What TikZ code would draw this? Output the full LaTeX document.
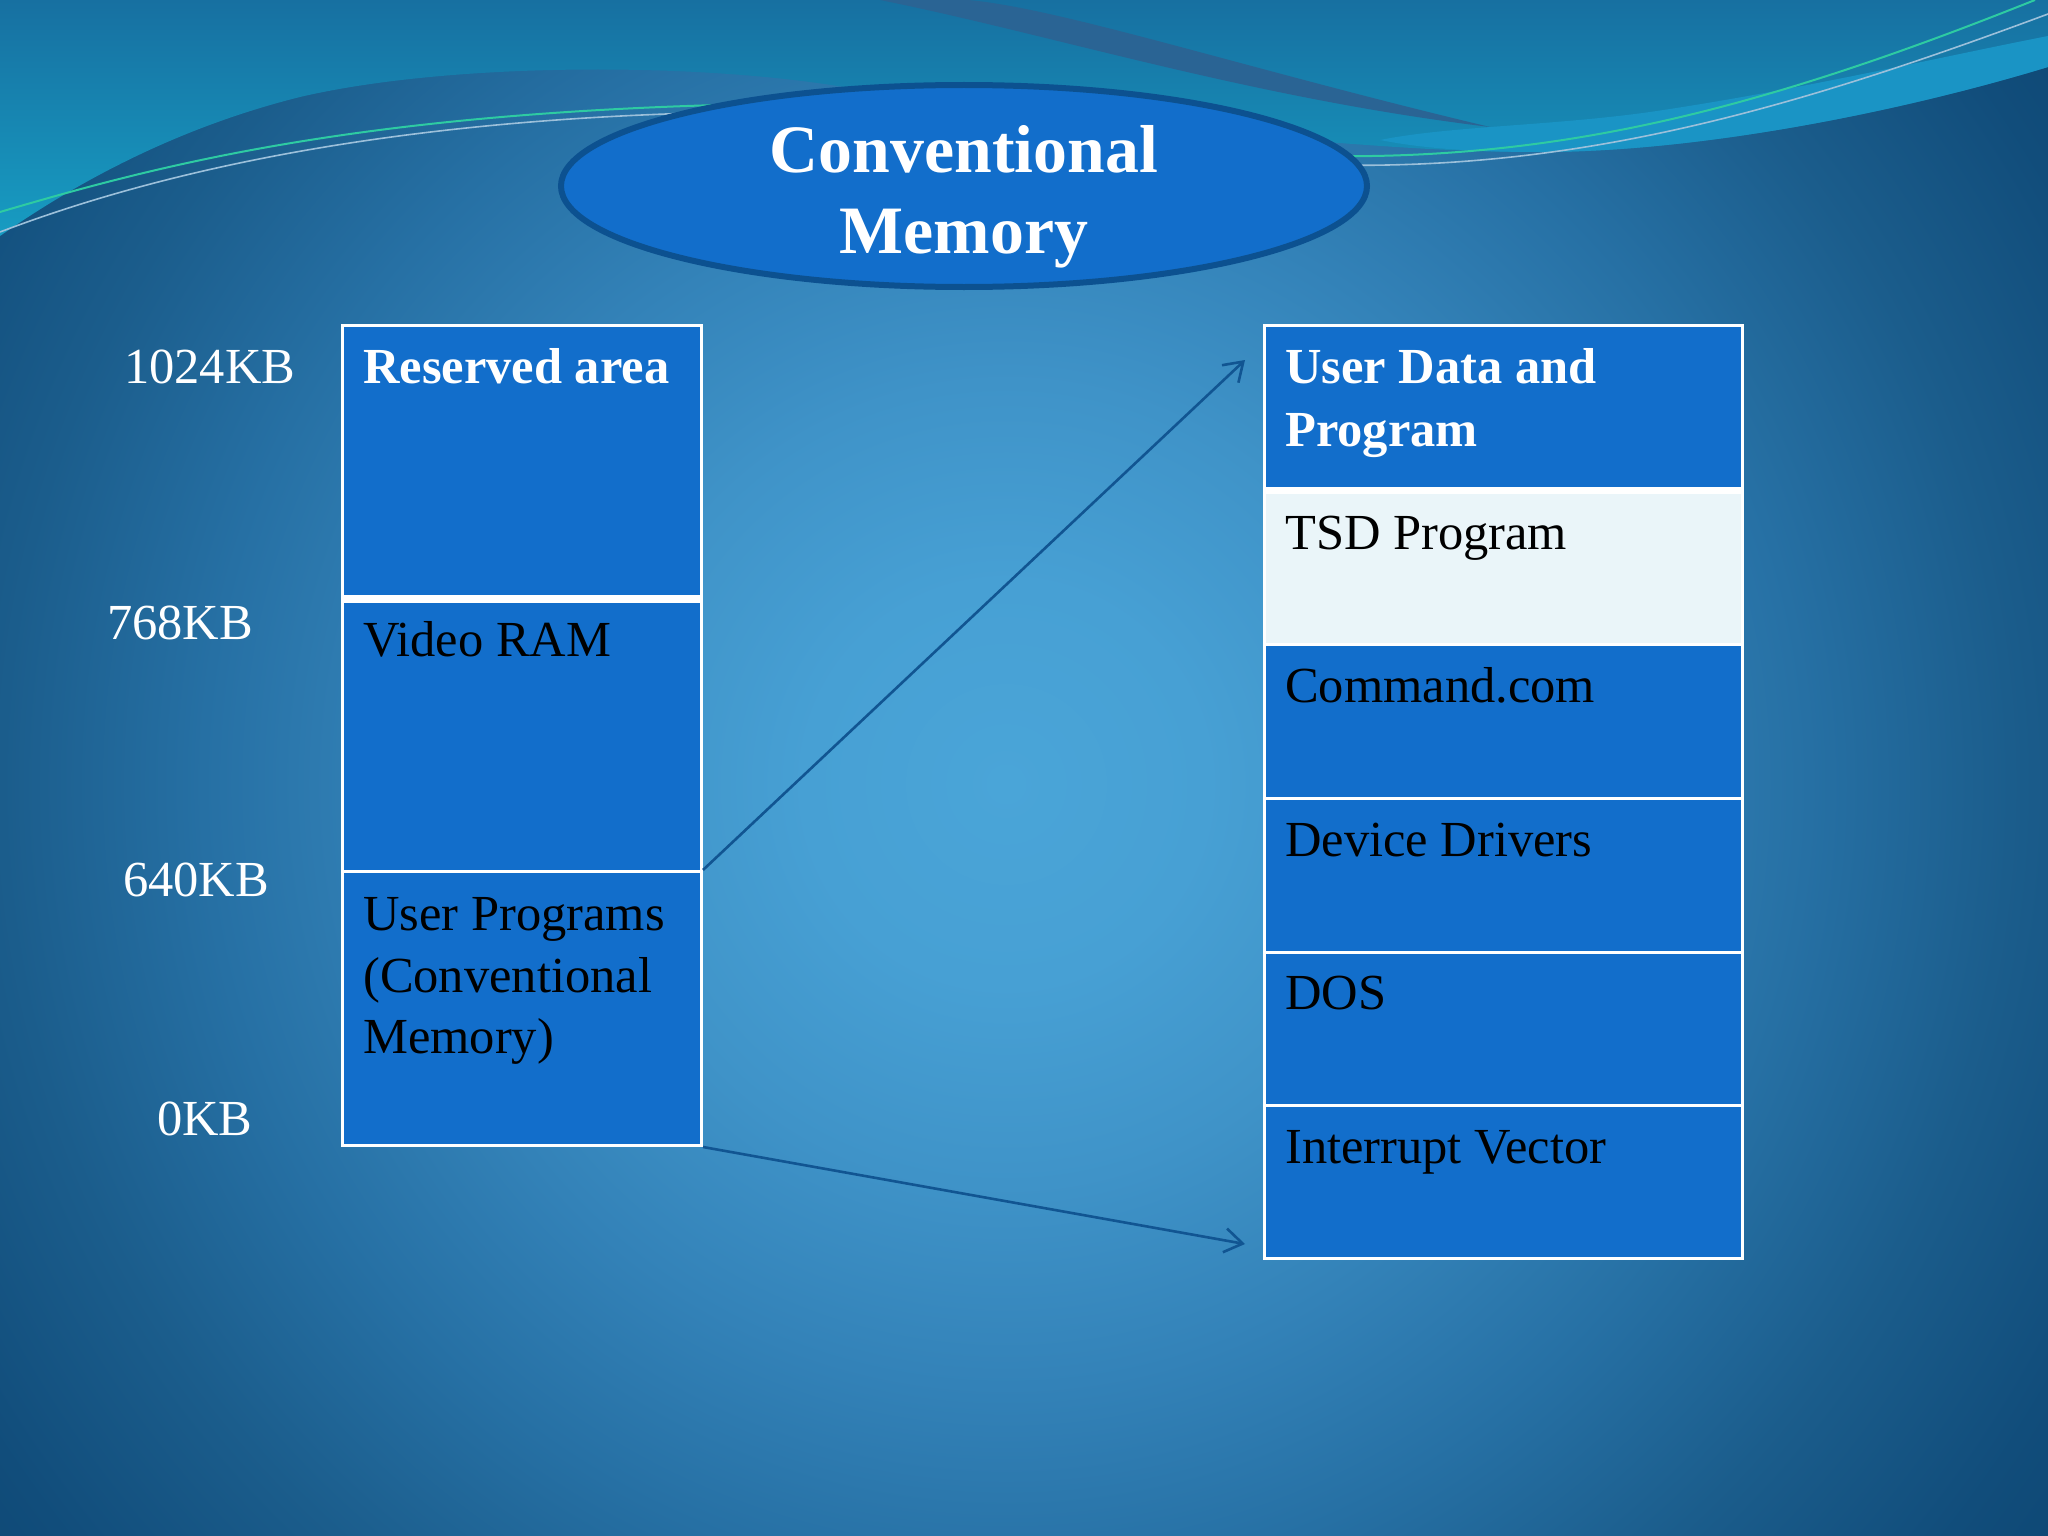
\documentclass[tikz,border=0pt]{standalone}
\usepackage{fontspec}
\setmainfont{Liberation Serif}
\usetikzlibrary{arrows.meta,shapes.geometric}
\definecolor{bgA}{HTML}{4AA5D8}
\definecolor{bgB}{HTML}{47A0D4}
\definecolor{bgC}{HTML}{3F93C8}
\definecolor{bgD}{HTML}{3382B8}
\definecolor{bgE}{HTML}{2670A4}
\definecolor{bgF}{HTML}{1B5D8C}
\definecolor{bgG}{HTML}{114D7B}
\definecolor{bgH}{HTML}{0A416C}
\definecolor{tealT}{HTML}{1770A1}
\definecolor{tealB}{HTML}{179CC2}
\definecolor{stripe}{HTML}{2A6494}
\definecolor{cyanband}{HTML}{1A94C5}
\definecolor{greenline}{HTML}{2ECBA2}
\definecolor{paleline}{HTML}{9CC0DA}
\definecolor{boxblue}{HTML}{126ECB}
\definecolor{ellborder}{HTML}{0C5190}
\definecolor{tsdfill}{HTML}{EAF5F9}
\definecolor{arrowblue}{HTML}{115592}
\pgfdeclareradialshading{bgshade}{\pgfpoint{0bp}{0bp}}{color(0bp)=(bgA); color(10bp)=(bgB); color(20bp)=(bgC); color(30bp)=(bgD); color(40bp)=(bgE); color(50bp)=(bgF); color(60bp)=(bgG); color(72bp)=(bgH)}
\tikzset{
  membox/.style={draw=white, line width=3pt, fill=boxblue, anchor=north west, inner sep=0pt, minimum width=#1},
  membox/.default=359,
  txt/.style={anchor=base west, inner sep=0pt, font=\fontsize{50.5}{61}\selectfont},
  hdr/.style={txt, text=white, font=\fontsize{50.5}{61}\selectfont\bfseries},
  kb/.style={txt, text=white},
  arrowline/.style={draw=arrowblue, line width=2.6pt, -{Straight Barb[length=18pt,width=24pt,line width=2.6pt]}},
}
\begin{document}
\begin{tikzpicture}[x=1pt,y=-1pt]
\useasboundingbox (0,0) rectangle (2048,1536);
\begin{scope}
\clip (0,0) rectangle (2048,1536);
\fill[bgH] (0,0) rectangle (2048,1536);
\begin{pgfscope}
\pgftransformshift{\pgfpoint{1006pt}{-784pt}}
\pgftransformscale{20}
\pgflowlevelsynccm
\pgfuseshading{bgshade}
\end{pgfscope}
% top wave
\shade[top color=tealT, bottom color=tealB] (0,0) -- (2048,0) -- (2048,67)
  .. controls (1900,112) and (1700,152) .. (1540,152)
  .. controls (1450,152) and (1380,146) .. (1300,140)
  .. controls (1100,120) and (950,95) .. (850,88)
  .. controls (700,62) and (450,62) .. (300,97)
  .. controls (180,127) and (80,180) .. (0,236) -- cycle;
\fill[stripe] (880,0) .. controls (1050,34) and (1250,98) .. (1490,127)
  .. controls (1250,70) and (1060,8) .. (968,0) -- cycle;
\fill[cyanband] (1380,140) .. controls (1450,126) and (1550,126) .. (1650,112)
  .. controls (1800,90) and (1950,55) .. (2048,36) -- (2048,67)
  .. controls (1900,112) and (1700,152) .. (1540,152)
  .. controls (1470,152) and (1420,148) .. (1380,140) -- cycle;
\draw[greenline, line width=2pt] (0,212) .. controls (150,168) and (350,112) .. (760,104);
\draw[paleline, line width=1.6pt] (0,232) .. controls (150,175) and (380,118) .. (740,112);
\draw[greenline, line width=2pt] (1320,156) .. controls (1560,160) and (1760,110) .. (2035,0);
\draw[paleline, line width=1.6pt] (1330,165) .. controls (1580,170) and (1790,110) .. (2048,14);
\end{scope}
% title
\node[ellipse, draw=ellborder, line width=6pt, fill=boxblue, minimum width=806, minimum height=202, inner sep=0pt] (title) at (964,186) {};
\node[anchor=base, inner sep=0pt, text=white, font=\fontsize{67.8}{84}\selectfont\bfseries] (t1) at (964,172) {Conventional};
\node[anchor=base, inner sep=0pt, text=white, font=\fontsize{67.8}{84}\selectfont\bfseries] (t2) at (964,253) {Memory};
% left column
\node[membox, minimum height=272] (reserved) at (341,324) {};
\node[membox, minimum height=274] (video) at (341,596) {};
\node[membox, minimum height=274] (userprog) at (341,870) {};
\draw[white, line width=8pt] (reserved.south west) -- (reserved.south east);
\node[hdr] (lreserved) at (363,383) {Reserved area};
\node[txt] (lvideo) at (363,656) {Video RAM};
\node[txt] (lup1) at (363,930) {User Programs};
\node[txt] (lup2) at (363,992) {(Conventional};
\node[txt] (lup3) at (363,1053) {Memory)};
\node[kb] (k1024) at (124,383) {1024KB};
\node[kb] (k768) at (107,639) {768KB};
\node[kb] (k640) at (123,896) {640KB};
\node[kb] (k0) at (157,1135) {0KB};
% right column
\node[membox=478, minimum height=163] (userdata) at (1263,324) {};
\node[membox=478, minimum height=156, fill=tsdfill] (tsd) at (1263,487) {};
\node[membox=478, minimum height=154] (command) at (1263,643) {};
\node[membox=478, minimum height=154] (drivers) at (1263,797) {};
\node[membox=478, minimum height=153] (dos) at (1263,951) {};
\node[membox=478, minimum height=153] (ivt) at (1263,1104) {};
\draw[white, line width=7pt] (userdata.south west) -- (userdata.south east);
\node[hdr] (lud1) at (1285,383) {User Data and};
\node[hdr] (lud2) at (1285,446) {Program};
\node[txt] (ltsd) at (1285,549) {TSD Program};
\node[txt] (lcmd) at (1285,702) {Command.com};
\node[txt] (ldrv) at (1285,856) {Device Drivers};
\node[txt] (ldos) at (1285,1009) {DOS};
\node[txt] (livt) at (1285,1163) {Interrupt Vector};
% arrows
\coordinate (a1end) at (1245,360);
\coordinate (a2end) at (1245,1244);
\draw[arrowline] (userprog.north east) -- (a1end);
\draw[arrowline] (userprog.south east) -- (a2end);
\end{tikzpicture}
\end{document}
